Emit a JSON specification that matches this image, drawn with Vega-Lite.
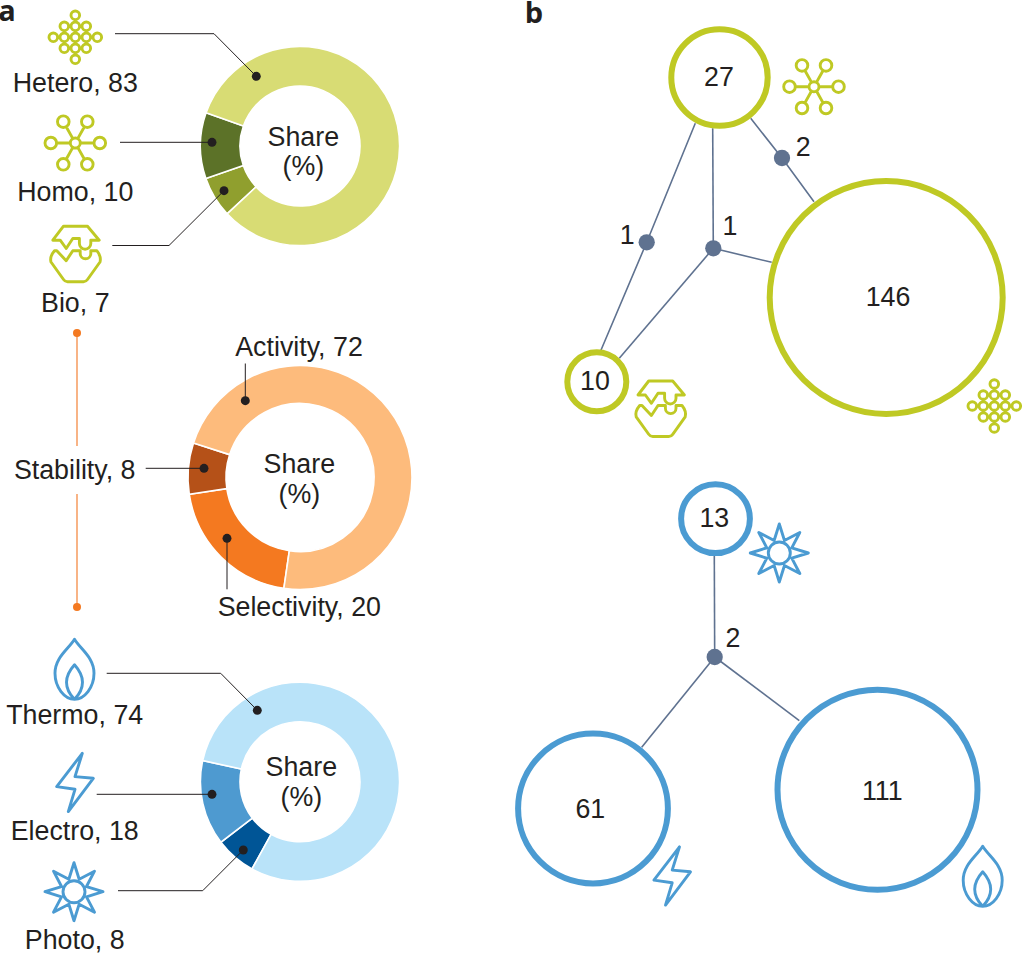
{
"$schema":"https://vega.github.io/schema/vega-lite/v6.json",
"width":1022,"height":954,"padding":0,"autosize":{"type":"none"},"background":"white",
"config":{"view":{"stroke":null}},
"resolve":{"scale":{"color":"independent"}},
"datasets":{
"segments":[
{"donut":"catalyst","label":"Bio","share":7,"start":63.06,"end":69.7,"x":300,"y":146},
{"donut":"catalyst","label":"Homo","share":10,"start":69.7,"end":80.4,"x":300,"y":146},
{"donut":"catalyst","label":"Hetero","share":83,"start":80.4,"end":163.06,"x":300,"y":146},
{"donut":"metric","label":"Selectivity","share":20,"start":52.3,"end":72.6,"x":300,"y":477.5},
{"donut":"metric","label":"Stability","share":8,"start":72.6,"end":80.0,"x":300,"y":477.5},
{"donut":"metric","label":"Activity","share":72,"start":80.0,"end":152.3,"x":300,"y":477.5},
{"donut":"process","label":"Photo","share":8,"start":58.0,"end":64.6,"x":300,"y":781.7},
{"donut":"process","label":"Electro","share":18,"start":64.6,"end":78.4,"x":300,"y":781.7},
{"donut":"process","label":"Thermo","share":74,"start":78.4,"end":158.0,"x":300,"y":781.7}
],
"leaders":[
{"id":"Hetero","i":0,"x":115,"y":33.7},{"id":"Hetero","i":1,"x":214,"y":33.7},{"id":"Hetero","i":2,"x":256.3,"y":76.3},
{"id":"Homo","i":0,"x":120,"y":142.3},{"id":"Homo","i":1,"x":212,"y":142.3},
{"id":"Bio","i":0,"x":112.3,"y":245.5},{"id":"Bio","i":1,"x":169,"y":245.5},{"id":"Bio","i":2,"x":224,"y":190.7},
{"id":"Activity","i":0,"x":245.3,"y":363.5},{"id":"Activity","i":1,"x":245.3,"y":400.7},
{"id":"Stability","i":0,"x":145.7,"y":468.3},{"id":"Stability","i":1,"x":204,"y":468.3},
{"id":"Selectivity","i":0,"x":227,"y":538.3},{"id":"Selectivity","i":1,"x":227,"y":589.3},
{"id":"Thermo","i":0,"x":106.7,"y":673.3},{"id":"Thermo","i":1,"x":220.7,"y":673.3},{"id":"Thermo","i":2,"x":257.3,"y":710.3},
{"id":"Electro","i":0,"x":96.7,"y":794.3},{"id":"Electro","i":1,"x":212,"y":794.3},
{"id":"Photo","i":0,"x":118,"y":890.7},{"id":"Photo","i":1,"x":202.7,"y":890.7},{"id":"Photo","i":2,"x":243.3,"y":850}
],
"leaderDots":[
{"id":"Hetero","x":256.3,"y":76.3},{"id":"Homo","x":212,"y":142.3},{"id":"Bio","x":224,"y":190.7},
{"id":"Activity","x":245.3,"y":400.7},{"id":"Stability","x":204,"y":468.3},{"id":"Selectivity","x":227,"y":538.3},
{"id":"Thermo","x":257.3,"y":710.3},{"id":"Electro","x":212,"y":794.3},{"id":"Photo","x":243.3,"y":850}
],
"stem":[
{"id":"upper","i":0,"x":77,"y":333},{"id":"upper","i":1,"x":77,"y":446},
{"id":"lower","i":0,"x":77,"y":494},{"id":"lower","i":1,"x":77,"y":607}
],
"stemDots":[{"x":77,"y":333},{"x":77,"y":607}],
"links":[
{"id":"g1","i":0,"x":695.3,"y":123.3},{"id":"g1","i":1,"x":646.7,"y":242.3},{"id":"g1","i":2,"x":600.3,"y":351.7},
{"id":"g2","i":0,"x":712.7,"y":128.3},{"id":"g2","i":1,"x":713.3,"y":248.3},
{"id":"g3","i":0,"x":713.3,"y":248.3},{"id":"g3","i":1,"x":619.3,"y":358.3},
{"id":"g4","i":0,"x":713.3,"y":248.3},{"id":"g4","i":1,"x":771.7,"y":262.3},
{"id":"g5","i":0,"x":750.7,"y":118.3},{"id":"g5","i":1,"x":782,"y":158},{"id":"g5","i":2,"x":814,"y":201.7},
{"id":"b1","i":0,"x":714.3,"y":556},{"id":"b1","i":1,"x":714.7,"y":657},
{"id":"b2","i":0,"x":714.7,"y":657},{"id":"b2","i":1,"x":641.7,"y":747.3},
{"id":"b3","i":0,"x":714.7,"y":657},{"id":"b3","i":1,"x":799.3,"y":720.7}
],
"nodes":[
{"x":646.7,"y":242.3},{"x":713.3,"y":248.3},{"x":782,"y":158},{"x":714.7,"y":657}
],
"rings":[
{"group":"catalyst","count":27,"x":719.5,"y":77.5},
{"group":"catalyst","count":146,"x":886.2,"y":297.5},
{"group":"catalyst","count":10,"x":596.8,"y":381.7},
{"group":"process","count":13,"x":715.5,"y":518.7},
{"group":"process","count":61,"x":593,"y":808.5},
{"group":"process","count":111,"x":877.5,"y":789.7}
],
"icons":[
{"icon":"Hetero","x":75.3,"y":37.3},{"icon":"Homo","x":75.3,"y":143},{"icon":"Bio","x":75.5,"y":253.5},
{"icon":"Thermo","x":74.5,"y":669.3},{"icon":"Electro","x":75,"y":782.3},{"icon":"Photo","x":74,"y":891.7},
{"icon":"Homo","x":814,"y":86.7},{"icon":"Hetero","x":994.3,"y":406},{"icon":"Bio","x":660.7,"y":408.3},
{"icon":"Photo","x":779.3,"y":553},{"icon":"Electro","x":672.2,"y":875.8},{"icon":"Thermo","x":982.7,"y":876.3}
],
"texts":[
{"t":"Hetero, 83","x":75.3,"y":83.3},{"t":"Homo, 10","x":75.3,"y":191.7},{"t":"Bio, 7","x":75.3,"y":303.3},
{"t":"Share","x":303.3,"y":137},{"t":"(%)","x":303.3,"y":165.7},
{"t":"Activity, 72","x":299,"y":347.3},{"t":"Stability, 8","x":74.7,"y":470},{"t":"Selectivity, 20","x":299.3,"y":606.7},
{"t":"Share","x":299.3,"y":464.3},{"t":"(%)","x":299.3,"y":494.3},
{"t":"Thermo, 74","x":74.7,"y":715},{"t":"Electro, 18","x":74.7,"y":831},{"t":"Photo, 8","x":74.7,"y":939.5},
{"t":"Share","x":301.3,"y":767},{"t":"(%)","x":301.3,"y":797},
{"t":"27","x":719,"y":77},{"t":"146","x":888,"y":297},{"t":"10","x":595,"y":381},
{"t":"13","x":714.3,"y":517.7},{"t":"61","x":590.3,"y":809.3},{"t":"111","x":882.3,"y":790.7},
{"t":"2","x":803.3,"y":146.7},{"t":"1","x":730,"y":226},{"t":"1","x":627.3,"y":235},{"t":"2","x":733,"y":638.3}
],
"panels":[{"t":"a","x":7,"y":21},{"t":"b","x":534,"y":23}]
},
"encoding":{
"x":{"field":"x","type":"quantitative","axis":null,"scale":{"domain":[0,1022],"nice":false,"zero":false}},
"y":{"field":"y","type":"quantitative","axis":null,"scale":{"domain":[954,0],"nice":false,"zero":false}}
},
"layer":[
{"data":{"name":"segments"},
"transform":[{"filter":"datum.donut !== 'metric'"}],
"mark":{"type":"arc","radius":99.6,"radius2":60,"stroke":"white","strokeWidth":1.6},
"encoding":{
"theta":{"field":"start","type":"quantitative","stack":null,"scale":{"domain":[0,100],"range":[0,6.283185]}},
"theta2":{"field":"end"},
"color":{"field":"label","type":"nominal","legend":null,"scale":{"domain":["Hetero","Homo","Bio","Thermo","Electro","Photo"],"range":["#d8dc74","#5c7228","#909f2e","#b9e3f9","#4e9ad0","#005596"]}}
}},
{"data":{"name":"segments"},
"transform":[{"filter":"datum.donut === 'metric'"}],
"mark":{"type":"arc","radius":112,"radius2":74,"stroke":"white","strokeWidth":1.6},
"encoding":{
"theta":{"field":"start","type":"quantitative","stack":null,"scale":{"domain":[0,100],"range":[0,6.283185]}},
"theta2":{"field":"end"},
"color":{"field":"label","type":"nominal","legend":null,"scale":{"domain":["Activity","Stability","Selectivity"],"range":["#fdbb7c","#b55118","#f47920"]}}
}},
{"data":{"name":"stem"},"mark":{"type":"line","color":"#f58b44","strokeWidth":1.3},"encoding":{"detail":{"field":"id"},"order":{"field":"i"}}},
{"data":{"name":"stemDots"},"mark":{"type":"point","shape":"circle","filled":true,"color":"#f47920","size":64,"opacity":1}},
{"data":{"name":"leaders"},"mark":{"type":"line","color":"#231f20","strokeWidth":1},"encoding":{"detail":{"field":"id"},"order":{"field":"i"}}},
{"data":{"name":"leaderDots"},"mark":{"type":"point","shape":"circle","filled":true,"color":"#231f20","size":80,"opacity":1}},
{"data":{"name":"links"},"mark":{"type":"line","color":"#5f7290","strokeWidth":1.6},"encoding":{"detail":{"field":"id"},"order":{"field":"i"}}},
{"data":{"name":"nodes"},"mark":{"type":"point","shape":"circle","filled":true,"color":"#5f7290","size":265,"opacity":1}},
{"data":{"name":"rings"},
"mark":{"type":"point","shape":"circle","filled":false,"strokeWidth":6,"opacity":1},
"encoding":{
"size":{"field":"count","type":"quantitative","legend":null,"scale":{"domain":[10,13,27,61,111,146],"range":[3481,4733,9293,22440,40000,54289],"zero":false}},
"color":{"field":"group","type":"nominal","legend":null,"scale":{"domain":["catalyst","process"],"range":["#bfc924","#4b9bd2"]}}
}},
{"data":{"name":"icons"},
"mark":{"type":"point","filled":false,"size":4,"strokeWidth":2.9,"strokeJoin":"round","strokeCap":"round","opacity":1},
"encoding":{
"shape":{"field":"icon","type":"nominal","legend":null,"scale":{"domain":["Hetero","Homo","Bio","Thermo","Electro","Photo"],"range":[
"M4.3 -22A4.3 4.3 0 1 0 -4.3 -22A4.3 4.3 0 1 0 4.3 -22ZM-6.7 -11A4.3 4.3 0 1 0 -15.3 -11A4.3 4.3 0 1 0 -6.7 -11ZM4.3 -11A4.3 4.3 0 1 0 -4.3 -11A4.3 4.3 0 1 0 4.3 -11ZM15.3 -11A4.3 4.3 0 1 0 6.7 -11A4.3 4.3 0 1 0 15.3 -11ZM-17.7 0A4.3 4.3 0 1 0 -26.3 0A4.3 4.3 0 1 0 -17.7 0ZM-6.7 0A4.3 4.3 0 1 0 -15.3 0A4.3 4.3 0 1 0 -6.7 0ZM4.3 0A4.3 4.3 0 1 0 -4.3 0A4.3 4.3 0 1 0 4.3 0ZM15.3 0A4.3 4.3 0 1 0 6.7 0A4.3 4.3 0 1 0 15.3 0ZM26.3 0A4.3 4.3 0 1 0 17.7 0A4.3 4.3 0 1 0 26.3 0ZM-6.7 11A4.3 4.3 0 1 0 -15.3 11A4.3 4.3 0 1 0 -6.7 11ZM4.3 11A4.3 4.3 0 1 0 -4.3 11A4.3 4.3 0 1 0 4.3 11ZM15.3 11A4.3 4.3 0 1 0 6.7 11A4.3 4.3 0 1 0 15.3 11ZM4.3 22A4.3 4.3 0 1 0 -4.3 22A4.3 4.3 0 1 0 4.3 22Z",
"M5 0A5 5 0 1 0 -5 0A5 5 0 1 0 5 0ZM30.3 0A5.8 5.8 0 1 0 18.7 0A5.8 5.8 0 1 0 30.3 0ZM-18.7 0A5.8 5.8 0 1 0 -30.3 0A5.8 5.8 0 1 0 -18.7 0ZM17.8 -21.3A5.8 5.8 0 1 0 6.2 -21.3A5.8 5.8 0 1 0 17.8 -21.3ZM-6.2 -21.3A5.8 5.8 0 1 0 -17.8 -21.3A5.8 5.8 0 1 0 -6.2 -21.3ZM17.8 21.3A5.8 5.8 0 1 0 6.2 21.3A5.8 5.8 0 1 0 17.8 21.3ZM-6.2 21.3A5.8 5.8 0 1 0 -17.8 21.3A5.8 5.8 0 1 0 -6.2 21.3ZM5 0L18.7 0M-5 0L-18.7 0M2.45 -4.36L9.1 -16.2M-2.45 -4.36L-9.1 -16.2M2.45 4.36L9.1 16.2M-2.45 4.36L-9.1 16.2",
"M-22.7 -13.3L-12 -27.3L12 -27.3L23.7 -13.3L15.3 -13.3L15.3 -10A5.7 5.7 0 0 1 3.9 -10L3.9 -15L-2.7 -15L-9.3 -5L-15.3 -13.3ZM-18.7 -2.8L-9.3 7.2L-2.7 -2.8L4.7 -2.8L4.7 0A5.3 5.3 0 0 0 15.3 0L15.3 -2.8L21.3 -2.8Q26 3 24.5 8.5L12 26Q10.5 28.2 8 28.2L-8 28.2Q-10.5 28.2 -12 26L-24.5 8.5Q-26 3 -21 -2.8Z",
"M0 -30C-6 -20 -19.5 -12 -19.5 4C-19.5 18 -10 30 0 30C10 30 19.5 18 19.5 4C19.5 -12 6 -20 0 -30ZM0 -4.5C-4 0 -8 6 -8 13C-8 20 -4 26 0 30C4 26 8 20 8 13C8 6 4 0 0 -4.5Z",
"M7.3 -29L-18.3 4.3L0 7L-6.7 29.3L18.3 -4L0 -5.7Z",
"M0 -29L5.17 -12.47L20.5 -20.5L12.47 -5.17L29 0L12.47 5.17L20.5 20.5L5.17 12.47L0 29L-5.17 12.47L-20.5 20.5L-12.47 5.17L-29 0L-12.47 -5.17L-20.5 -20.5L-5.17 -12.47ZM11 0A11 11 0 1 0 -11 0A11 11 0 1 0 11 0Z"
]}},
"color":{"field":"icon","type":"nominal","legend":null,"scale":{"domain":["Hetero","Homo","Bio","Thermo","Electro","Photo"],"range":["#bfc924","#bfc924","#bfc924","#4b9bd2","#4b9bd2","#4b9bd2"]}}
}},
{"data":{"name":"texts"},"mark":{"type":"text","font":"Liberation Sans","fontSize":26.8,"dy":1,"color":"#231f20","align":"center","baseline":"middle"},"encoding":{"text":{"field":"t"}}},
{"data":{"name":"panels"},"mark":{"type":"text","font":"Open Sans","fontWeight":"bold","fontSize":29,"color":"#231f20","align":"center","baseline":"alphabetic"},"encoding":{"text":{"field":"t"}}}
]
}
